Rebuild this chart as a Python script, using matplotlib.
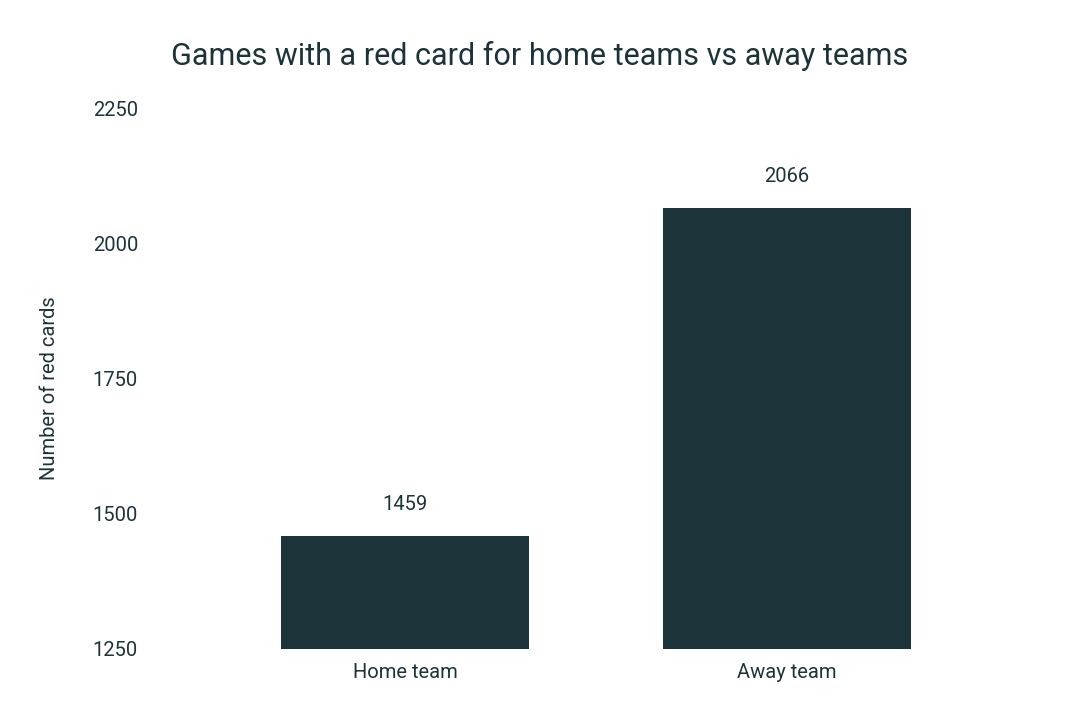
import matplotlib
matplotlib.use("Agg")
import matplotlib.pyplot as plt

# Données
categories = ["Home team", "Away team"]
red_cards = [1459, 2066]
y_ticks = [1250, 1500, 1750, 2000, 2250]

color = "#1d333a"
plt.rcParams['font.family'] = ['Roboto', 'DejaVu Sans']

fig = plt.figure(figsize=(10.8, 7.2), dpi=100)
# zone du graphique en pixels : x 145..1045, y 108..649
ax = fig.add_axes([145 / 1080, (720 - 649) / 720, 900 / 1080, 541 / 720])

x = list(range(len(categories)))
ax.bar(x, red_cards, width=0.65, color=color, bottom=0)
for xi, v in zip(x, red_cards):
    ax.text(xi, v + 40, str(v), ha='center', va='bottom', fontsize=14.5, color=color)

ax.set_xlim(-0.681, 1.675)
ax.set_ylim(1250, 2250)
ax.set_yticks(y_ticks)
ax.set_xticks(x)
ax.set_xticklabels(categories)
ax.tick_params(axis='both', length=0, labelsize=14.5, labelcolor=color)
ax.tick_params(axis='y', pad=5)
ax.tick_params(axis='x', pad=10)
for s in ax.spines.values():
    s.set_visible(False)

ax.set_ylabel("Number of red cards", fontsize=14.5, color=color)
ax.yaxis.set_label_coords(-0.096, 0.482)
fig.suptitle("Games with a red card for home teams vs away teams",
             x=540 / 1080, y=1 - 56 / 720, va='center', fontsize=22, color=color)

fig.savefig("out.png", dpi=100)
